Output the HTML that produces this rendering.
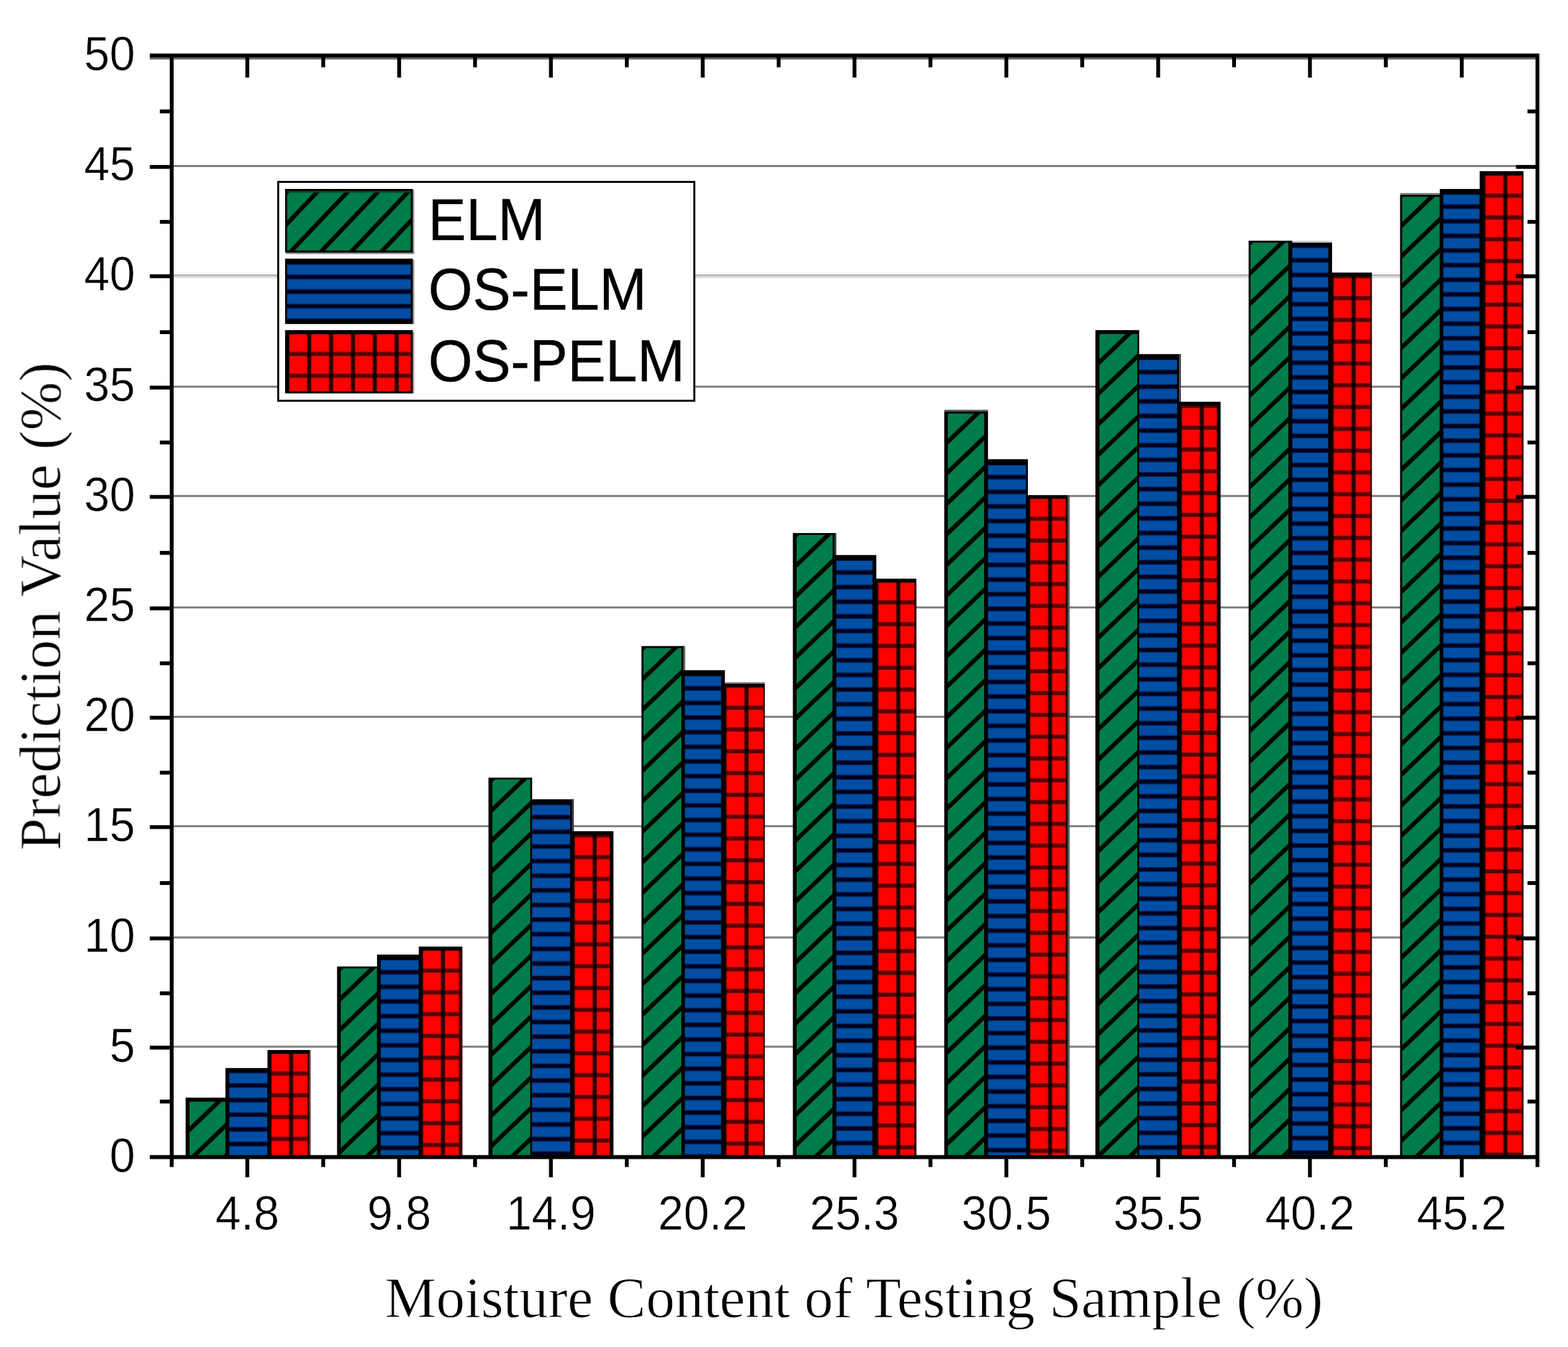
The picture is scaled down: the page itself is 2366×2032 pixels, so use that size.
<!DOCTYPE html>
<html lang="en">
<head>
<meta charset="utf-8">
<title>Prediction Value vs Moisture Content of Testing Sample</title>
<style>
html,body{margin:0;padding:0;background:#fff;}
body{width:2366px;height:2032px;overflow:hidden;}
svg{display:block;}
.sans{font-family:"Liberation Sans",Arial,Helvetica,sans-serif;fill:#000;}
.serif{font-family:"Liberation Serif","Times New Roman",Times,serif;fill:#000;}
</style>
</head>
<body>
<svg width="2366" height="2032" viewBox="0 0 2366 2032">
<defs>
<filter id="soft" x="0" y="0" width="2366" height="2032" filterUnits="userSpaceOnUse" color-interpolation-filters="sRGB">
<feGaussianBlur stdDeviation="0.55"/>
</filter>
<pattern id="hg" patternUnits="userSpaceOnUse" x="0" y="0" width="48.16753926701571" height="46.0">
<rect width="48.16753926701571" height="46.0" fill="#007c48"/>
<path d="M-48.16753926701571,46.0 L48.16753926701571,-46.0 M-48.16753926701571,92.0 L96.33507853403142,-46.0 M0,92.0 L96.33507853403142,0" stroke="#000800" stroke-width="6.6" fill="none"/>
</pattern>
<pattern id="hgl" patternUnits="userSpaceOnUse" x="0" y="0" width="45.7" height="48.0">
<rect width="45.7" height="48.0" fill="#007c48"/>
<path d="M-45.7,48.0 L45.7,-48.0 M-45.7,96.0 L91.4,-48.0 M0,96.0 L91.4,0" stroke="#000800" stroke-width="6.6" fill="none"/>
</pattern>
<pattern id="hb" patternUnits="userSpaceOnUse" x="0" y="0" width="64" height="22.07">
<rect width="64" height="22.07" fill="#004ea3"/>
<rect y="7.13" width="64" height="7.8" fill="#002a66"/>
<rect y="8.23" width="64" height="5.6" fill="#00001e"/>
</pattern>
<pattern id="hr" patternUnits="userSpaceOnUse" x="0" y="0" width="33.0" height="32.88">
<rect width="33.0" height="32.88" fill="#ff0000"/>
<rect x="0" y="12.24" width="33.0" height="8.4" fill="#d01414"/>
<rect x="12.50" y="0" width="8.0" height="32.88" fill="#c00c0c"/>
<rect x="0" y="13.44" width="33.0" height="6.0" fill="#5a0000"/>
<rect x="13.70" y="0" width="5.6" height="32.88" fill="#280000"/>
<rect x="13.70" y="13.44" width="5.6" height="6.0" fill="#100000"/>
</pattern>
</defs>
<rect width="2366" height="2032" fill="#fff"/>
<g id="chart" filter="url(#soft)">

<g id="grid" fill="#858585">
<rect x="262.0" y="1577.5" width="2055.0" height="3.0" fill="#7c7c7c"/>
<rect x="262.0" y="1412.7" width="2055.0" height="3.0" fill="#7c7c7c"/>
<rect x="262.0" y="1244.8" width="2055.0" height="3.0" fill="#7c7c7c"/>
<rect x="262.0" y="1079.8" width="2055.0" height="3.0" fill="#7c7c7c"/>
<rect x="262.0" y="914.8" width="2055.0" height="3.0" fill="#7c7c7c"/>
<rect x="262.0" y="746.7" width="2055.0" height="3.0" fill="#7c7c7c"/>
<rect x="262.0" y="581.8" width="2055.0" height="3.0" fill="#7c7c7c"/>
<rect x="262.0" y="414.0" width="2055.0" height="2.7" fill="#b2b2b2"/>
<rect x="262.0" y="416.7" width="2055.0" height="3.0" fill="#e0e0e0"/>
<rect x="262.0" y="248.9" width="2055.0" height="3.0" fill="#7c7c7c"/>
</g>
<g id="bars">
<rect x="280.1" y="1655.8" width="65.9" height="87.8" fill="#000"/>
<g transform="translate(47.26 0.00)"><rect x="238.64" y="1661.90" width="54.30" height="81.70" fill="url(#hg)"/></g>
<rect x="340.2" y="1611.2" width="69.2" height="132.4" fill="#000"/>
<g transform="translate(0.00 15.35)"><rect x="346.00" y="1601.95" width="57.60" height="126.30" fill="url(#hb)"/></g>
<rect x="403.6" y="1584.0" width="65.4" height="159.6" fill="#000"/>
<rect x="464.1" y="1589.4" width="4.9" height="154.2" fill="#3a0808"/>
<rect x="467.0" y="1584.0" width="2.0" height="159.6" fill="#7a5c5c"/>
<g transform="translate(26.80 24.82)"><rect x="382.60" y="1564.58" width="54.70" height="154.20" fill="url(#hr)"/></g>
<rect x="508.6" y="1458.0" width="65.9" height="285.6" fill="#000"/>
<g transform="translate(20.27 0.00)"><rect x="493.93" y="1460.80" width="54.70" height="282.80" fill="url(#hg)"/></g>
<rect x="568.9" y="1440.0" width="68.5" height="303.6" fill="#000"/>
<g transform="translate(0.00 21.01)"><rect x="574.50" y="1427.39" width="57.30" height="295.20" fill="url(#hb)"/></g>
<rect x="631.8" y="1427.9" width="65.7" height="315.7" fill="#000"/>
<rect x="692.6" y="1433.4" width="4.9" height="310.2" fill="#3a0808"/>
<g transform="translate(24.83 0.94)"><rect x="612.57" y="1432.46" width="55.20" height="310.20" fill="url(#hr)"/></g>
<rect x="737.1" y="1173.1" width="65.9" height="570.5" fill="#000"/>
<g transform="translate(46.87 0.00)"><rect x="696.13" y="1175.80" width="57.20" height="567.80" fill="url(#hg)"/></g>
<rect x="800.2" y="1205.7" width="65.8" height="537.9" fill="#000"/>
<rect x="863.2" y="1205.7" width="2.8" height="537.9" fill="#45454f"/>
<g transform="translate(0.00 7.91)"><rect x="803.00" y="1206.29" width="57.30" height="529.40" fill="url(#hb)"/></g>
<rect x="860.3" y="1253.9" width="65.3" height="489.7" fill="#000"/>
<g transform="translate(22.86 27.22)"><rect x="843.14" y="1232.48" width="54.10" height="483.90" fill="url(#hr)"/></g>
<rect x="967.9" y="974.6" width="65.6" height="769.0" fill="#000"/>
<rect x="1031.1" y="974.6" width="2.4" height="769.0" fill="#5a665f"/>
<g transform="translate(19.17 0.00)"><rect x="951.83" y="977.60" width="57.20" height="766.00" fill="url(#hg)"/></g>
<rect x="1028.2" y="1011.1" width="65.6" height="732.5" fill="#000"/>
<g transform="translate(0.00 12.14)"><rect x="1033.50" y="1007.56" width="54.70" height="723.90" fill="url(#hb)"/></g>
<rect x="1093.8" y="1029.0" width="60.3" height="2.9" fill="#8c8c8c"/>
<rect x="1088.2" y="1031.4" width="65.9" height="712.2" fill="#000"/>
<rect x="1151.6" y="1036.0" width="2.5" height="707.6" fill="#3a0808"/>
<g transform="translate(20.89 31.88)"><rect x="1072.91" y="1004.12" width="57.80" height="707.60" fill="url(#hr)"/></g>
<rect x="1196.4" y="804.1" width="65.6" height="939.5" fill="#000"/>
<rect x="1259.3" y="804.1" width="2.7" height="939.5" fill="#3a4a40"/>
<g transform="translate(23.36 0.00)"><rect x="1178.64" y="806.90" width="54.40" height="936.70" fill="url(#hg)"/></g>
<rect x="1256.4" y="837.3" width="65.9" height="906.3" fill="#000"/>
<g transform="translate(0.00 13.91)"><rect x="1262.00" y="831.79" width="54.70" height="897.90" fill="url(#hb)"/></g>
<rect x="1316.7" y="872.9" width="65.9" height="870.7" fill="#000"/>
<rect x="1379.6" y="878.6" width="3.0" height="865.0" fill="#3a0808"/>
<g transform="translate(18.92 4.50)"><rect x="1303.38" y="874.10" width="57.30" height="865.00" fill="url(#hr)"/></g>
<rect x="1425.1" y="618.2" width="65.7" height="3.1" fill="#5c5c5c"/>
<rect x="1424.8" y="620.8" width="66.0" height="1122.8" fill="#000"/>
<g transform="translate(8.63 0.00)"><rect x="1421.57" y="624.00" width="54.90" height="1119.60" fill="url(#hg)"/></g>
<rect x="1485.1" y="692.7" width="65.9" height="1050.9" fill="#000"/>
<g transform="translate(0.00 2.52)"><rect x="1490.80" y="699.18" width="57.20" height="1041.90" fill="url(#hb)"/></g>
<rect x="1548.0" y="747.0" width="65.6" height="996.6" fill="#000"/>
<rect x="1610.9" y="747.0" width="2.7" height="996.6" fill="#5a5a5a"/>
<g transform="translate(16.95 9.82)"><rect x="1536.85" y="742.18" width="54.20" height="991.60" fill="url(#hr)"/></g>
<rect x="1652.9" y="498.0" width="66.1" height="1245.6" fill="#000"/>
<g transform="translate(15.34 0.00)"><rect x="1643.66" y="503.80" width="57.20" height="1239.80" fill="url(#hg)"/></g>
<rect x="1716.2" y="534.2" width="65.6" height="1209.4" fill="#000"/>
<rect x="1778.9" y="534.2" width="2.9" height="1209.4" fill="#50505a"/>
<g transform="translate(0.00 20.58)"><rect x="1719.00" y="522.02" width="57.00" height="1201.00" fill="url(#hb)"/></g>
<rect x="1776.0" y="606.0" width="65.8" height="1137.6" fill="#000"/>
<g transform="translate(14.98 4.04)"><rect x="1766.82" y="607.76" width="54.30" height="1131.80" fill="url(#hr)"/></g>
<rect x="1884.1" y="363.1" width="65.9" height="1380.5" fill="#000"/>
<g transform="translate(5.74 0.00)"><rect x="1881.26" y="366.10" width="57.20" height="1377.50" fill="url(#hg)"/></g>
<rect x="1950.0" y="363.4" width="60.0" height="3.2" fill="#c4c4c4"/>
<rect x="1944.2" y="366.1" width="65.8" height="1377.5" fill="#000"/>
<g transform="translate(0.00 6.47)"><rect x="1950.00" y="363.33" width="54.40" height="1373.80" fill="url(#hb)"/></g>
<rect x="2004.4" y="411.2" width="65.7" height="1332.4" fill="#000"/>
<rect x="2067.6" y="417.0" width="2.5" height="1326.6" fill="#3a0808"/>
<g transform="translate(13.01 5.82)"><rect x="1996.99" y="411.18" width="57.60" height="1326.60" fill="url(#hr)"/></g>
<rect x="2112.9" y="291.2" width="65.1" height="3.3" fill="#7a7a7a"/>
<rect x="2112.6" y="294.0" width="65.4" height="1449.6" fill="#000"/>
<g transform="translate(14.65 0.00)"><rect x="2101.05" y="296.80" width="56.90" height="1446.80" fill="url(#hg)"/></g>
<rect x="2172.6" y="285.1" width="65.7" height="1458.5" fill="#000"/>
<g transform="translate(0.00 13.75)"><rect x="2178.00" y="279.75" width="54.70" height="1450.10" fill="url(#hb)"/></g>
<rect x="2232.7" y="258.2" width="66.1" height="1485.4" fill="#000"/>
<rect x="2296.1" y="264.0" width="2.7" height="1479.6" fill="#3a0808"/>
<g transform="translate(11.04 15.72)"><rect x="2227.26" y="248.28" width="57.80" height="1479.60" fill="url(#hr)"/></g>
</g>
<rect x="226" y="86.3" width="2091.0" height="3.5" fill="#6b6b6b"/>
<g id="axes" fill="#000">
<rect x="2322.3" y="80.8" width="2.4" height="1679.7" fill="#e2e2e2"/>
<path d="M226,80.8 H2322.6 V1760.5 H2317.0 V1748.5 H262.0 V1760.5 H256.2 V1748.5 H226 V1742.6 H256.2 V86.8 H226 Z M262.0,86.8 V1742.6 H2317.0 V86.8 Z" fill-rule="evenodd"/>
<rect x="241.3" y="1658.8" width="15.9" height="5.8"/>
<rect x="2304.9" y="1658.8" width="13.1" height="5.8"/>
<rect x="226.0" y="1577.5" width="31.2" height="5.8"/>
<rect x="2287.4" y="1577.5" width="30.6" height="5.8"/>
<rect x="241.3" y="1495.5" width="15.9" height="5.8"/>
<rect x="2304.9" y="1495.5" width="13.1" height="5.8"/>
<rect x="226.0" y="1412.7" width="31.2" height="5.8"/>
<rect x="2287.4" y="1412.7" width="30.6" height="5.8"/>
<rect x="241.3" y="1329.2" width="15.9" height="5.8"/>
<rect x="2304.9" y="1329.2" width="13.1" height="5.8"/>
<rect x="226.0" y="1244.8" width="31.2" height="5.8"/>
<rect x="2287.4" y="1244.8" width="30.6" height="5.8"/>
<rect x="241.3" y="1162.7" width="15.9" height="5.8"/>
<rect x="2304.9" y="1162.7" width="13.1" height="5.8"/>
<rect x="226.0" y="1079.8" width="31.2" height="5.8"/>
<rect x="2287.4" y="1079.8" width="30.6" height="5.8"/>
<rect x="241.3" y="997.7" width="15.9" height="5.8"/>
<rect x="2304.9" y="997.7" width="13.1" height="5.8"/>
<rect x="226.0" y="914.8" width="31.2" height="5.8"/>
<rect x="2287.4" y="914.8" width="30.6" height="5.8"/>
<rect x="241.3" y="831.1" width="15.9" height="5.8"/>
<rect x="2304.9" y="831.1" width="13.1" height="5.8"/>
<rect x="226.0" y="746.7" width="31.2" height="5.8"/>
<rect x="2287.4" y="746.7" width="30.6" height="5.8"/>
<rect x="241.3" y="664.6" width="15.9" height="5.8"/>
<rect x="2304.9" y="664.6" width="13.1" height="5.8"/>
<rect x="226.0" y="581.8" width="31.2" height="5.8"/>
<rect x="2287.4" y="581.8" width="30.6" height="5.8"/>
<rect x="241.3" y="498.2" width="15.9" height="5.8"/>
<rect x="2304.9" y="498.2" width="13.1" height="5.8"/>
<rect x="226.0" y="413.8" width="31.2" height="5.8"/>
<rect x="2287.4" y="413.8" width="30.6" height="5.8"/>
<rect x="241.3" y="331.8" width="15.9" height="5.8"/>
<rect x="2304.9" y="331.8" width="13.1" height="5.8"/>
<rect x="226.0" y="248.9" width="31.2" height="5.8"/>
<rect x="2287.4" y="248.9" width="30.6" height="5.8"/>
<rect x="241.3" y="165.2" width="15.9" height="5.8"/>
<rect x="2304.9" y="165.2" width="13.1" height="5.8"/>
<rect x="370.3" y="85.8" width="5.8" height="31.2"/>
<rect x="370.3" y="1747.5" width="5.8" height="28.5"/>
<rect x="484.8" y="85.8" width="5.8" height="15.7"/>
<rect x="484.8" y="1747.5" width="5.8" height="13.0"/>
<rect x="599.4" y="85.8" width="5.8" height="31.2"/>
<rect x="599.4" y="1747.5" width="5.8" height="28.5"/>
<rect x="713.9" y="85.8" width="5.8" height="15.7"/>
<rect x="713.9" y="1747.5" width="5.8" height="13.0"/>
<rect x="828.4" y="85.8" width="5.8" height="31.2"/>
<rect x="828.4" y="1747.5" width="5.8" height="28.5"/>
<rect x="942.9" y="85.8" width="5.8" height="15.7"/>
<rect x="942.9" y="1747.5" width="5.8" height="13.0"/>
<rect x="1057.5" y="85.8" width="5.8" height="31.2"/>
<rect x="1057.5" y="1747.5" width="5.8" height="28.5"/>
<rect x="1172.0" y="85.8" width="5.8" height="15.7"/>
<rect x="1172.0" y="1747.5" width="5.8" height="13.0"/>
<rect x="1286.5" y="85.8" width="5.8" height="31.2"/>
<rect x="1286.5" y="1747.5" width="5.8" height="28.5"/>
<rect x="1401.1" y="85.8" width="5.8" height="15.7"/>
<rect x="1401.1" y="1747.5" width="5.8" height="13.0"/>
<rect x="1515.6" y="85.8" width="5.8" height="31.2"/>
<rect x="1515.6" y="1747.5" width="5.8" height="28.5"/>
<rect x="1630.1" y="85.8" width="5.8" height="15.7"/>
<rect x="1630.1" y="1747.5" width="5.8" height="13.0"/>
<rect x="1744.7" y="85.8" width="5.8" height="31.2"/>
<rect x="1744.7" y="1747.5" width="5.8" height="28.5"/>
<rect x="1859.2" y="85.8" width="5.8" height="15.7"/>
<rect x="1859.2" y="1747.5" width="5.8" height="13.0"/>
<rect x="1973.7" y="85.8" width="5.8" height="31.2"/>
<rect x="1973.7" y="1747.5" width="5.8" height="28.5"/>
<rect x="2088.2" y="85.8" width="5.8" height="15.7"/>
<rect x="2088.2" y="1747.5" width="5.8" height="13.0"/>
<rect x="2202.8" y="85.8" width="5.8" height="31.2"/>
<rect x="2202.8" y="1747.5" width="5.8" height="28.5"/>
</g>
<g id="legend">
<rect x="419.8" y="274.4" width="627.9" height="330.1" fill="#fff" stroke="#000" stroke-width="3.0"/>
<rect x="622.6" y="286.5" width="2.6" height="96.8" fill="#9c9c9c"/>
<rect x="431.5" y="380.6" width="193.7" height="2.7" fill="#8c8c8c"/>
<rect x="622.6" y="392" width="2.6" height="96.8" fill="#9c9c9c"/>
<rect x="622.6" y="500" width="2.6" height="93.5" fill="#b4a0a0"/>
<rect x="430.2" y="285.0" width="192.7" height="96.0" fill="#000"/>
<g transform="translate(23.18 0.00)"><rect x="410.12" y="288.20" width="186.50" height="89.70" fill="url(#hgl)"/></g>
<rect x="433.3" y="288.0" width="186.5" height="2.6" fill="#004a22"/>
<rect x="430.2" y="390.2" width="192.7" height="98.6" fill="#000"/>
<g transform="translate(0.00 9.50)"><rect x="433.30" y="389.10" width="186.50" height="84.10" fill="url(#hb)"/></g>
<rect x="430.2" y="498.0" width="192.7" height="95.5" fill="#000"/>
<g transform="translate(21.10 24.36)"><rect x="414.90" y="479.44" width="183.80" height="86.60" fill="url(#hr)"/></g>
<g class="sans" font-size="86" stroke="#000" stroke-width="0.4">
<text transform="translate(646 362.3) scale(1 1.04)">ELM</text>
<text transform="translate(646.3 467.2) scale(1 1.04)">OS-ELM</text>
<text transform="translate(646.3 575) scale(1 1.04)">OS-PELM</text>
</g>
</g>
<g id="ylabels" class="sans" font-size="69.5" text-anchor="end" stroke="#fff" stroke-width="0.6">
<text transform="translate(204 1767.8) scale(1 1.05)">0</text>
<text transform="translate(204 1601.7) scale(1 1.05)">5</text>
<text transform="translate(204 1435.5) scale(1 1.05)">10</text>
<text transform="translate(204 1269.3) scale(1 1.05)">15</text>
<text transform="translate(204 1103.1) scale(1 1.05)">20</text>
<text transform="translate(204 937.0) scale(1 1.05)">25</text>
<text transform="translate(204 770.8) scale(1 1.05)">30</text>
<text transform="translate(204 604.6) scale(1 1.05)">35</text>
<text transform="translate(204 438.4) scale(1 1.05)">40</text>
<text transform="translate(204 272.3) scale(1 1.05)">45</text>
<text transform="translate(204 106.1) scale(1 1.05)">50</text>
</g>
<g id="xlabels" class="sans" font-size="69.5" text-anchor="middle" stroke="#fff" stroke-width="0.6">
<text transform="translate(373.2 1854.6) scale(1 1.05)">4.8</text>
<text transform="translate(602.3 1854.6) scale(1 1.05)">9.8</text>
<text transform="translate(831.3 1854.6) scale(1 1.05)">14.9</text>
<text transform="translate(1060.4 1854.6) scale(1 1.05)">20.2</text>
<text transform="translate(1289.4 1854.6) scale(1 1.05)">25.3</text>
<text transform="translate(1518.5 1854.6) scale(1 1.05)">30.5</text>
<text transform="translate(1747.6 1854.6) scale(1 1.05)">35.5</text>
<text transform="translate(1976.6 1854.6) scale(1 1.05)">40.2</text>
<text transform="translate(2205.7 1854.6) scale(1 1.05)">45.2</text>
</g>
<text class="serif" font-size="87" text-anchor="middle" stroke="#fff" stroke-width="0.9" x="1288.5" y="1987">Moisture Content of Testing Sample (%)</text>
<text class="serif" font-size="88" text-anchor="middle" stroke="#fff" stroke-width="0.9" transform="translate(90.5 914.8) rotate(-90)">Prediction Value (%)</text>
</g>
</svg>
</body>
</html>
